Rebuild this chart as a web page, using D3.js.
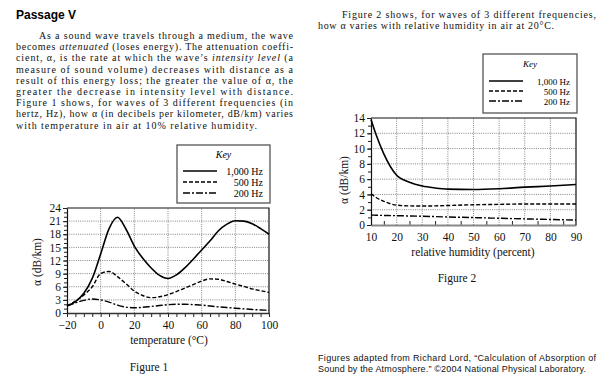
<!DOCTYPE html>
<html>
<head>
<meta charset="utf-8">
<script src="https://cdn.jsdelivr.net/npm/d3@7"></script>
<style>
  body { margin: 0; background: #fff; }
  svg { display: block; }
</style>
</head>
<body>
<div id="chart"></div>
<script>
// Figure 1: attenuation vs temperature (10% RH)
const temps = [-20, -15, -10, -5, 0, 5, 10, 15, 20, 25, 30, 35, 40, 45, 50, 55, 60, 65, 70, 75, 80, 85, 90, 95, 100];
const temp1000 = [1.6, 2.6, 4.5, 7.9, 13.5, 19.3, 21.9, 19.2, 15.3, 12.5, 10.3, 8.6, 7.9, 8.7, 10.3, 12.3, 14.4, 16.5, 18.8, 20.3, 21.1, 21.0, 20.4, 19.3, 18.0];
const temp500 = [1.6, 2.7, 4.1, 6.0, 9.0, 9.5, 8.3, 6.7, 5.0, 4.0, 3.5, 3.7, 4.2, 4.9, 5.7, 6.5, 7.3, 7.8, 7.7, 7.2, 6.6, 6.1, 5.5, 5.1, 4.7];
const temp200 = [1.6, 2.3, 2.9, 3.2, 3.0, 2.5, 1.8, 1.35, 1.2, 1.3, 1.5, 1.7, 1.9, 2.0, 2.0, 1.9, 1.8, 1.6, 1.4, 1.25, 1.1, 0.95, 0.8, 0.7, 0.6];

// Figure 2: attenuation vs relative humidity (20 C)
const humid = [10, 12, 15, 20, 25, 30, 35, 40, 50, 60, 70, 80, 90];
const humid1000 = [13.8, 11.8, 9.3, 6.5, 5.6, 5.1, 4.85, 4.7, 4.65, 4.75, 4.95, 5.1, 5.3];
const humid500 = [4.1, 3.6, 3.1, 2.6, 2.5, 2.48, 2.5, 2.55, 2.65, 2.7, 2.75, 2.75, 2.75];
const humid200 = [1.3, 1.28, 1.25, 1.22, 1.18, 1.15, 1.1, 1.05, 0.97, 0.88, 0.8, 0.72, 0.65];

const tempTicks = [-20, 0, 20, 40, 60, 80, 100];
const alphaTicks1 = [0, 3, 6, 9, 12, 15, 18, 21, 24];
const humidTicks = [10, 20, 30, 40, 50, 60, 70, 80, 90];
const alphaTicks2 = [0, 2, 4, 6, 8, 10, 12, 14];
const keyLabels = ["1,000 Hz", "500 Hz", "200 Hz"];

const passage = [
  "As a sound wave travels through a medium, the wave",
  "becomes *attenuated* (loses energy). The attenuation coeffi-",
  "cient, \u03b1, is the rate at which the wave\u2019s *intensity level* (a",
  "measure of sound volume) decreases with distance as a",
  "result of this energy loss; the greater the value of \u03b1, the",
  "greater the decrease in intensity level with distance.",
  "Figure 1 shows, for waves of 3 different frequencies (in",
  "hertz, Hz), how \u03b1 (in decibels per kilometer, dB/km) varies",
  "with temperature in air at 10% relative humidity."
];
const passage2 = [
  "Figure 2 shows, for waves of 3 different frequencies,",
  "how \u03b1 varies with relative humidity in air at 20\u00b0C."
];
const credits = [
  "Figures adapted from Richard Lord, \u201cCalculation of Absorption of",
  "Sound by the Atmosphere.\u201d \u00a92004 National Physical Laboratory."
];

const serif = "'Liberation Serif', 'Times New Roman', serif";
const sans = "'Liberation Sans', Arial, sans-serif";
const dashes = [null, "4,2", "7,2,2,2"];

const svg = d3.select("#chart").append("svg")
  .attr("width", 613)
  .attr("height", 384);

svg.append("rect").attr("width", 613).attr("height", 384).attr("fill", "#fff");

// justified block of text, one <text> per line, *...* = italic
function textBlock(lines, x0, y0, lh, width, size, family, indent, lastWidth) {
  lines.forEach((line, i) => {
    const x = x0 + (i === 0 ? indent : 0);
    const t = svg.append("text")
      .attr("x", x)
      .attr("y", y0 + i * lh)
      .attr("font-family", family)
      .attr("font-size", size)
      .attr("fill", "#111");
    line.split("*").forEach((seg, j) => {
      if (seg.length) t.append("tspan").attr("font-style", j % 2 ? "italic" : "normal").text(seg);
    });
    const w = i < lines.length - 1 ? x0 + width - x : lastWidth;
    if (w) t.attr("textLength", w).attr("lengthAdjust", "spacing");
  });
}

svg.append("text")
  .attr("x", 16).attr("y", 19)
  .attr("font-family", sans)
  .attr("font-weight", "bold")
  .attr("font-size", 12)
  .text("Passage V");

textBlock(passage, 16, 39, 11.2, 277, 10, serif, 23, 241);
textBlock(passage2, 318, 18, 11.2, 278, 10, serif, 24, 236);
textBlock(credits, 318, 361, 10.5, 278, 9, sans, 0, 268);

function drawChart(o) {
  const g = svg.append("g");
  const x = d3.scaleLinear().domain(o.xDomain).range(o.xRange);
  const y = d3.scaleLinear().domain(o.yDomain).range(o.yRange);
  const [x0, x1] = o.xRange;
  const [yb, yt] = o.yRange;

  // dotted grid
  g.selectAll(".vg").data(o.xGrid).enter().append("line")
    .attr("x1", d => x(d)).attr("x2", d => x(d))
    .attr("y1", yb).attr("y2", yt)
    .attr("stroke", "#666").attr("stroke-width", 0.8).attr("stroke-dasharray", "1,1.2");
  g.selectAll(".hg").data(o.yGrid).enter().append("line")
    .attr("x1", x0).attr("x2", x1)
    .attr("y1", d => y(d)).attr("y2", d => y(d))
    .attr("stroke", "#666").attr("stroke-width", 0.8).attr("stroke-dasharray", "1,1.2");

  // minor ticks
  const xm = g.append("g").attr("transform", `translate(0,${yb})`)
    .call(d3.axisBottom(x).tickValues(o.xMinor).tickFormat("").tickSizeInner(o.xTickDir * 4).tickSizeOuter(0));
  const ym = g.append("g").attr("transform", `translate(${x0},0)`)
    .call(d3.axisLeft(y).tickValues(o.yMinor).tickFormat("").tickSizeInner(3).tickSizeOuter(0));
  [xm, ym].forEach(a => { a.select(".domain").remove(); a.selectAll("line").attr("stroke", "#222"); });

  // labelled axes
  const xa = g.append("g").attr("transform", `translate(0,${yb})`)
    .call(d3.axisBottom(x).tickValues(o.xTicks).tickSizeInner(0).tickSizeOuter(0).tickPadding(8));
  const ya = g.append("g").attr("transform", `translate(${x0},0)`)
    .call(d3.axisLeft(y).tickValues(o.yTicks).tickSizeInner(4).tickSizeOuter(0).tickPadding(2));
  [xa, ya].forEach(a => {
    a.selectAll("text").attr("font-family", serif).attr("font-size", 11.5).attr("fill", "#111");
    a.selectAll("line").attr("stroke", "#222");
  });
  xa.select(".domain").attr("stroke", o.bottomColor).attr("stroke-width", o.bottomWidth);
  ya.select(".domain").attr("stroke", "#111").attr("stroke-width", 1.2);

  // top and right border
  g.append("path")
    .attr("d", `M${x0},${yt}H${x1}V${yb}`)
    .attr("fill", "none").attr("stroke", "#111").attr("stroke-width", 1.2);

  // curves
  const line = d3.line().x(d => x(d[0])).y(d => y(d[1])).curve(d3.curveMonotoneX);
  o.series.forEach((s, i) => {
    g.append("path")
      .datum(o.xs.map((v, k) => [v, s[k]]))
      .attr("d", line)
      .attr("fill", "none")
      .attr("stroke", "#000")
      .attr("stroke-width", i === 0 ? 1.6 : 1.4)
      .attr("stroke-dasharray", dashes[i]);
  });

  // axis titles
  g.append("text")
    .attr("transform", `translate(${o.yLabel[0]},${o.yLabel[1]}) rotate(-90)`)
    .attr("text-anchor", "middle")
    .attr("font-family", serif).attr("font-size", 11.5).attr("fill", "#111")
    .text("\u03b1 (dB/km)");
  g.append("text")
    .attr("x", o.xLabel[0]).attr("y", o.xLabel[1])
    .attr("text-anchor", "middle")
    .attr("font-family", serif).attr("font-size", 11.5).attr("fill", "#111")
    .text(o.xTitle);
  g.append("text")
    .attr("x", o.figLabel[0]).attr("y", o.figLabel[1])
    .attr("text-anchor", "middle")
    .attr("font-family", serif).attr("font-size", 11.5).attr("fill", "#111")
    .text(o.figTitle);

  // key
  const k = o.key;
  g.append("rect")
    .attr("x", k.x).attr("y", k.y).attr("width", k.w).attr("height", k.h)
    .attr("fill", "#fff").attr("stroke", "#555").attr("stroke-width", 1.3);
  g.append("text")
    .attr("x", k.x + k.w / 2).attr("y", k.y + 13)
    .attr("text-anchor", "middle")
    .attr("font-family", serif).attr("font-style", "italic").attr("font-size", k.fs)
    .text("Key");
  keyLabels.forEach((lab, i) => {
    const ly = k.y + k.row0 + i * k.rowH;
    g.append("line")
      .attr("x1", k.x + 6).attr("x2", k.x + 40)
      .attr("y1", ly).attr("y2", ly)
      .attr("stroke", "#000").attr("stroke-width", i === 0 ? 1.6 : 1.4)
      .attr("stroke-dasharray", dashes[i]);
    g.append("text")
      .attr("x", k.x + k.w - 7).attr("y", ly + 3.5)
      .attr("text-anchor", "end")
      .attr("font-family", serif).attr("font-size", k.fs)
      .text(lab);
  });
}

drawChart({
  xDomain: [-20, 100], xRange: [67, 269],
  yDomain: [0, 24], yRange: [313, 208],
  xs: temps, series: [temp1000, temp500, temp200],
  xTicks: tempTicks, yTicks: alphaTicks1,
  xGrid: [0, 20, 40, 60, 80], yGrid: [3, 6, 9, 12, 15, 18, 21],
  xMinor: d3.range(-20, 101, 5), yMinor: d3.range(0, 25, 1),
  xTickDir: 1, bottomColor: "#333", bottomWidth: 1.4,
  yLabel: [41, 262], xLabel: [169, 344], xTitle: "temperature (\u00b0C)",
  figLabel: [149, 371], figTitle: "Figure 1",
  key: { x: 177, y: 145, w: 93, h: 58, row0: 26, rowH: 11, fs: 10 }
});

drawChart({
  xDomain: [10, 90], xRange: [371, 576],
  yDomain: [0, 14], yRange: [225, 118],
  xs: humid, series: [humid1000, humid500, humid200],
  xTicks: humidTicks, yTicks: alphaTicks2,
  xGrid: [20, 30, 40, 50, 60, 70, 80], yGrid: [2, 4, 6, 8, 10, 12],
  xMinor: d3.range(15, 90, 10), yMinor: d3.range(0, 15, 1),
  xTickDir: -1, bottomColor: "#888", bottomWidth: 2,
  yLabel: [348, 180], xLabel: [473, 256], xTitle: "relative humidity (percent)",
  figLabel: [457, 282], figTitle: "Figure 2",
  key: { x: 483, y: 54, w: 94, h: 59, row0: 27, rowH: 10, fs: 9 }
});
</script>
</body>
</html>
